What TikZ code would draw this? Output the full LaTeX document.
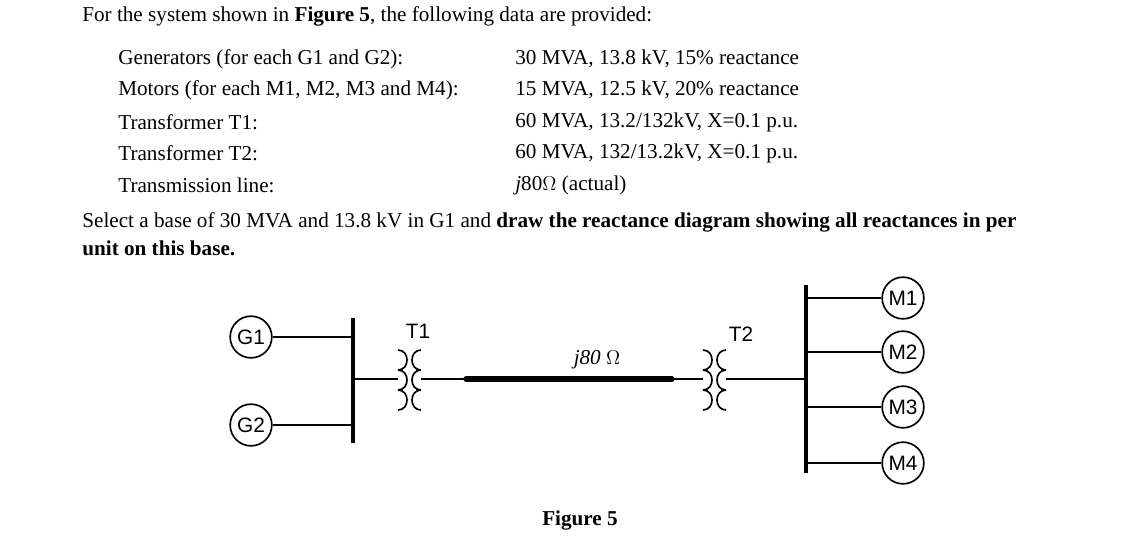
\documentclass[tikz,border=0pt]{standalone}
\usepackage{fontspec}
\setmainfont{Liberation Serif}
\newfontfamily\arialf{Liberation Sans}
\begin{document}
\begin{tikzpicture}[x=0.6pt,y=-0.6pt,
  txt/.style={anchor=west,inner sep=0,font=\fontsize{12.7}{15}\selectfont},
  mach/.style={circle,draw,line width=1pt,minimum size=25pt,inner sep=0,font=\arialf\fontsize{12.5}{14}\selectfont},
  wire/.style={line width=1.3pt},
  bus/.style={line width=2.6pt},
  lbl/.style={font=\arialf\fontsize{12.5}{14}\selectfont,inner sep=0}]
\useasboundingbox (0,0) rectangle (1146,552);
% text
\node[txt] (t0) at (82,16) {For the system shown in \textbf{Figure 5}, the following data are provided:};
\node[txt] (a1) at (118,59) {Generators (for each G1 and G2):};
\node[txt] (a2) at (118,90) {Motors (for each M1, M2, M3 and M4):};
\node[txt] (a3) at (118,122) {Transformer T1:};
\node[txt] (a4) at (118,153) {Transformer T2:};
\node[txt] (a5) at (118,185) {Transmission line:};
\node[txt] (b1) at (515,59) {30 MVA, 13.8 kV, 15\% reactance};
\node[txt] (b2) at (515,90) {15 MVA, 12.5 kV, 20\% reactance};
\node[txt] (b3) at (515,122) {60 MVA, 13.2/132kV, X=0.1 p.u.};
\node[txt] (b4) at (515,153) {60 MVA, 132/13.2kV, X=0.1 p.u.};
\node[txt] (b5) at (515,185) {\textit{j}80$\Omega$ (actual)};
\node[txt] (s1) at (82,222) {Select a base of 30 MVA and 13.8 kV in G1 and \textbf{draw the reactance diagram showing all reactances in per}};
\node[txt] (s2) at (82,248) {\textbf{unit on this base.}};
% machines
\node[mach] (G1) at (251,337) {G1};
\node[mach] (G2) at (251,425) {G2};
\node[mach] (M1) at (903,298) {M1};
\node[mach] (M2) at (903,352) {M2};
\node[mach] (M3) at (903,407) {M3};
\node[mach] (M4) at (903,463) {M4};
% buses
\coordinate (B1t) at (353,318); \coordinate (B1b) at (353,443);
\coordinate (B2t) at (806,285); \coordinate (B2b) at (806,473);
\draw[bus] (B1t) -- (B1b);
\draw[bus] (B2t) -- (B2b);
\draw[wire] (G1) -- (G1 -| B1t);
\draw[wire] (G2) -- (G2 -| B1t);
\foreach \m in {M1,M2,M3,M4} \draw[wire] (\m) -- (\m -| B2t);
% transformers
\coordinate (T1a) at (398,379); \coordinate (T1b) at (421,379);
\coordinate (T2a) at (703,379); \coordinate (T2b) at (726,379);
\foreach \xl/\xr in {398/421,703/726}{
  \foreach \k in {0,1,2}{
    \draw[line width=1pt] (\xl,350+20*\k) .. controls (\xl+12,350+20*\k) and (\xl+12,370+20*\k) .. (\xl,370+20*\k);
    \draw[line width=1pt] (\xr,350+20*\k) .. controls (\xr-12,350+20*\k) and (\xr-12,370+20*\k) .. (\xr,370+20*\k);
  }}
\node[lbl] (T1) at (418,331) {T1};
\node[lbl] (T2) at (741,334) {T2};
% line
\coordinate (L1) at (466,379); \coordinate (L2) at (672,379);
\draw[wire] (B1t |- T1a) -- (T1a);
\draw[wire] (T1b) -- (L1);
\draw[line width=3.2pt,line cap=round] (L1) -- (L2);
\draw[wire] (L2) -- (T2a);
\draw[wire] (T2b) -- (B2t |- T2b);
\node[inner sep=0,font=\fontsize{12.7}{15}\selectfont] (X) at (597,360) {\textit{j80} $\Omega$};
\node[inner sep=0,font=\bfseries\fontsize{12.7}{15}\selectfont] (F) at (580,520) {Figure 5};
\end{tikzpicture}
\end{document}
